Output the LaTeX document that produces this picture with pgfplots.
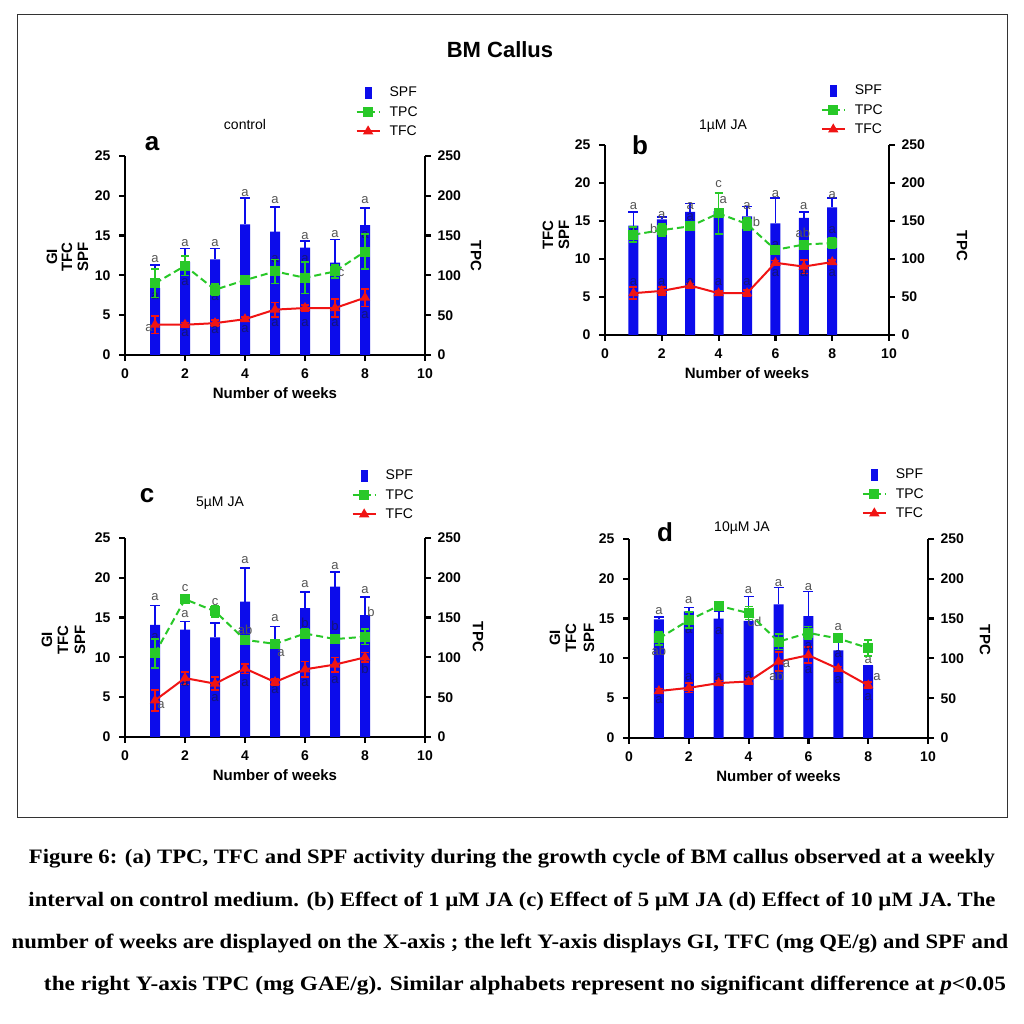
\documentclass[border=0pt]{standalone}
\usepackage{pgfplots}
\pgfplotsset{compat=1.18}
\usepackage{pgfplotstable}
\usepackage{fontspec}
\setmainfont{Liberation Sans}
\newfontfamily\capfont{Liberation Serif}

\definecolor{spfblue}{RGB}{12,12,235}
\definecolor{tpcgreen}{RGB}{40,200,40}
\definecolor{tfcred}{RGB}{240,20,20}
\definecolor{lettgray}{RGB}{85,85,85}
\definecolor{innerlett}{RGB}{20,20,120}

\newcommand{\fs}[1]{\fontsize{#1}{#1}\selectfont}

% week, SPF (+err), TPC (+err, right axis), TFC (+err)
\pgfplotstableread{
w spf spfe tpc tpce tfc tfce
1 8.4  2.9 90  18 3.8 1.1
2 11.7 1.7 112 12 3.8 0.3
3 12.0 1.4 82  7  4.0 0.4
4 16.4 3.3 94  5  4.5 0.3
5 15.5 3.1 105 15 5.7 0.9
6 13.5 0.8 97  20 5.9 0.4
7 11.6 2.9 105 8  5.9 1.1
8 16.3 2.2 130 22 7.2 1.1
}\dataA
\pgfplotstableread{
w spf spfe tpc tpce tfc tfce
1 14.4 1.8 132 10 5.5 0.8
2 15.2 0.3 138 8  5.8 0.5
3 16.2 1.1 143 5  6.5 0.3
4 16.3 0.2 160 27 5.5 0.3
5 15.6 1.3 146 8  5.5 0.4
6 14.7 3.3 112 5  9.5 0.3
7 15.4 0.8 119 5  9.0 0.9
8 16.8 1.2 121 7  9.6 0.3
}\dataB
\pgfplotstableread{
w spf spfe tpc tpce tfc tfce
1 14.1 2.4 105 18 4.6 1.3
2 13.5 1.0 173 4  7.4 0.8
3 12.5 1.8 158 7  6.7 0.8
4 17.0 4.2 122 5  8.6 0.6
5 11.8 2.1 117 5  6.9 0.4
6 16.2 2.0 130 6  8.5 1.0
7 18.9 1.8 123 4  9.1 0.9
8 15.3 2.3 126 10 10.0 0.6
}\dataC
\pgfplotstableread{
w spf spfe tpc tpce tfc tfce
1 14.9 0.3 125 8  5.9 0.3
2 15.9 0.5 148 10 6.3 0.6
3 15.0 0.9 166 5  6.9 0.3
4 14.7 3.1 157 8  7.1 0.4
5 16.8 2.1 121 10 9.6 1.2
6 15.3 3.1 132 8  10.4 1.0
7 11.0 2.0 125 5  8.7 0.3
8 9.1  0.0 113 10 6.6 0.4
}\dataD

\pgfplotsset{
  tpcline/.style={tpcgreen, line width=2pt, dash pattern=on 7pt off 4pt,
    mark=square*, mark size=4pt, mark options={solid, fill=tpcgreen}},
  tfcline/.style={tfcred, line width=2pt, solid,
    mark=triangle*, mark size=4pt, mark options={solid, fill=tfcred}},
  common/.style={scale only axis, xmin=0, xmax=10, clip=false,
    /pgf/number format/assume math mode=true,
    tick label style={font=\bfseries\fs{14}}},
  tickset/.style={tick align=outside, major tick length=6pt,
    xtick style={black, line width=2.2pt},
    ytick style={black, line width=2.2pt},
    axis line style={-, line width=2.4pt, black}},
  panel/.style={common, ymin=0, ymax=25,
    axis x line=bottom, axis y line=left, tickset,
    xtick={0,2,...,10}, ytick={0,5,...,25},
    xticklabel style={yshift=-4pt}, yticklabel style={xshift=-5pt},
    xlabel={Number of weeks}, xlabel style={font=\bfseries\fs{15}, yshift=-2pt},
    legend cell align=left,
    legend image code/.code={\draw[mark repeat=2,mark phase=2,##1] plot coordinates {(0pt,0pt) (11.5pt,0pt) (23pt,0pt)};}},
  panelR/.style={common, ymin=0, ymax=250,
    axis x line=none, axis y line=right, tickset,
    yticklabel style={xshift=3pt},
    ytick={0,50,...,250}},
  legpos/.style 2 args={legend style={at={(#1,#2)}, anchor=north west,
    draw=none, fill=none, font=\fs{14}, inner sep=0pt, row sep=6pt,
    nodes={inner sep=1pt}, /tikz/every odd column/.style={column sep=8pt}}},
  spfbars/.style={ybar, bar width=10pt, bar shift=0pt, fill=spfblue, draw=none,
    error bars/.cd, y dir=plus, y explicit,
    error bar style={spfblue, line width=1.6pt},
    error mark options={spfblue, line width=1.6pt, mark size=5pt, rotate=90}},
  tpcerr/.style={error bars/.cd, y dir=both, y explicit,
    error bar style={tpcgreen, solid, line width=1.6pt},
    error mark options={tpcgreen, solid, line width=1.6pt, mark size=4pt, rotate=90}},
  tfcerr/.style={error bars/.cd, y dir=both, y explicit,
    error bar style={tfcred, solid, line width=1.6pt},
    error mark options={tfcred, solid, line width=1.6pt, mark size=4pt, rotate=90}},
}
\tikzset{
  lt/.style={font=\fs{13}, text=lettgray, inner sep=0pt},
  il/.style={font=\fs{13}, text=innerlett, inner sep=0pt},
  ylab/.style={font=\bfseries\fs{15}, rotate=90},
  ylabR/.style={font=\bfseries\fs{15}, rotate=-90},
}

% left axis: SPF bars and TFC line, with legend
\newcommand{\leftplots}[1]{%
  \addplot[forget plot, spfbars] table[x=w, y=spf, y error=spfe] {#1};
  \addplot[forget plot, tfcline, tfcerr] table[x=w, y=tfc, y error=tfce] {#1};
  \addlegendimage{legend image code/.code={\path[draw=none] (0pt,0pt) -- (23pt,0pt); \fill[spfblue, draw=none] (8pt,-6pt) rectangle (15pt,6pt);}}
  \addlegendentry{SPF}
  \addlegendimage{tpcline}
  \addlegendentry{TPC}
  \addlegendimage{tfcline}
  \addlegendentry{TFC}
}
\newcommand{\rightplot}[1]{%
  \addplot[tpcline, tpcerr] table[x=w, y=tpc, y error=tpce] {#1};
}

\begin{document}
\begin{tikzpicture}[x=1pt, y=1pt]
\path[use as bounding box] (0,0) rectangle (1024,1024);
\fill[white] (0,0) rectangle (1024,1024);
\draw[line width=1pt, black!80] (17,1009) rectangle (1007,206);
\node[font=\bfseries\fs{22}, anchor=base] at (500,966) {BM Callus};

% ---- panel a: control
\begin{axis}[panel, legpos={0.768}{1.352}, at={(125pt,669pt)}, anchor=south west, width=300pt, height=199pt]
\leftplots{\dataA}
\node[lt] at (axis cs:1,12.1) {a};
\node[lt] at (axis cs:2,14.1) {a};
\node[lt] at (axis cs:3,14.1) {a};
\node[lt] at (axis cs:4,20.4) {a};
\node[lt] at (axis cs:5,19.5) {a};
\node[lt] at (axis cs:6,15.0) {a};
\node[lt] at (axis cs:7,15.2) {a};
\node[lt] at (axis cs:8,19.5) {a};
\node[lt] at (axis cs:0.8,3.4) {a};
\node[lt] at (axis cs:7.2,10.3) {c};
\node[il] at (axis cs:1,7.4) {a};
\node[il] at (axis cs:2,9.2) {a};
\node[il] at (axis cs:2,2.8) {a};
\node[il] at (axis cs:3,7.3) {a};
\node[il] at (axis cs:3,3.1) {a};
\node[il] at (axis cs:4,3.2) {a};
\node[il] at (axis cs:5,12.0) {a};
\node[il] at (axis cs:5,4.0) {a};
\node[il] at (axis cs:6,12.0) {a};
\node[il] at (axis cs:6,4.0) {a};
\node[il] at (axis cs:7,4.0) {a};
\node[il] at (axis cs:8,15.1) {a};
\node[il] at (axis cs:8,5.0) {a};
\end{axis}
\begin{axis}[panelR, at={(125pt,669pt)}, anchor=south west, width=300pt, height=199pt]
\rightplot{\dataA}
\end{axis}

% ---- panel b: 1 uM JA
\begin{axis}[panel, legpos={0.759}{1.321}, at={(605pt,689pt)}, anchor=south west, width=284pt, height=190pt]
\leftplots{\dataB}
\node[lt] at (axis cs:1,16.9) {a};
\node[lt] at (axis cs:2,15.8) {a};
\node[lt] at (axis cs:3,17.0) {a};
\node[lt] at (axis cs:4,19.9) {c};
\node[lt] at (axis cs:5,17.0) {a};
\node[lt] at (axis cs:6,18.6) {a};
\node[lt] at (axis cs:7,16.9) {a};
\node[lt] at (axis cs:8,18.4) {a};
\node[lt] at (axis cs:1.72,14.0) {b};
\node[lt] at (axis cs:4.16,17.8) {a};
\node[lt] at (axis cs:5.33,14.9) {b};
\node[lt] at (axis cs:6.97,13.4) {ab};
\node[il] at (axis cs:1,13.5) {a};
\node[il] at (axis cs:1,6.9) {a};
\node[il] at (axis cs:2,6.9) {a};
\node[il] at (axis cs:3,15.5) {a};
\node[il] at (axis cs:3,6.9) {a};
\node[il] at (axis cs:4,6.9) {a};
\node[il] at (axis cs:5,6.9) {a};
\node[il] at (axis cs:6,11.8) {a};
\node[il] at (axis cs:6,8.1) {a};
\node[il] at (axis cs:7,8.1) {a};
\node[il] at (axis cs:8,13.8) {a};
\node[il] at (axis cs:8,8.1) {a};
\end{axis}
\begin{axis}[panelR, at={(605pt,689pt)}, anchor=south west, width=284pt, height=190pt]
\rightplot{\dataB}
\end{axis}

% ---- panel c: 5 uM JA
\begin{axis}[panel, legpos={0.755}{1.347}, at={(125pt,287pt)}, anchor=south west, width=300pt, height=199pt]
\leftplots{\dataC}
\node[lt] at (axis cs:1,17.6) {a};
\node[lt] at (axis cs:2,18.7) {c};
\node[lt] at (axis cs:2,15.5) {a};
\node[lt] at (axis cs:3,17.0) {c};
\node[lt] at (axis cs:3,15.5) {a};
\node[lt] at (axis cs:4,22.2) {a};
\node[lt] at (axis cs:4,13.4) {ab};
\node[lt] at (axis cs:5,14.9) {a};
\node[lt] at (axis cs:5.2,10.6) {a};
\node[lt] at (axis cs:6,19.2) {a};
\node[lt] at (axis cs:7,21.5) {a};
\node[lt] at (axis cs:8,18.4) {a};
\node[lt] at (axis cs:8.2,15.7) {b};
\node[lt] at (axis cs:1.2,4.0) {a};
\node[il] at (axis cs:1,12.6) {a};
\node[il] at (axis cs:2,6.8) {a};
\node[il] at (axis cs:3,4.9) {a};
\node[il] at (axis cs:4,6.8) {a};
\node[il] at (axis cs:5,5.9) {a};
\node[il] at (axis cs:6,14.4) {b};
\node[il] at (axis cs:6,6.8) {a};
\node[il] at (axis cs:7,13.9) {b};
\node[il] at (axis cs:7,7.2) {a};
\node[il] at (axis cs:8,8.6) {b};
\end{axis}
\begin{axis}[panelR, at={(125pt,287pt)}, anchor=south west, width=300pt, height=199pt]
\rightplot{\dataC}
\end{axis}

% ---- panel d: 10 uM JA
\begin{axis}[panel, legpos={0.778}{1.357}, at={(629pt,286pt)}, anchor=south west, width=299pt, height=199pt]
\leftplots{\dataD}
\node[lt] at (axis cs:1,16.0) {a};
\node[lt] at (axis cs:2,17.3) {a};
\node[lt] at (axis cs:3,16.5) {a};
\node[lt] at (axis cs:4,18.6) {a};
\node[lt] at (axis cs:5,19.5) {a};
\node[lt] at (axis cs:6,19.0) {a};
\node[lt] at (axis cs:7,13.9) {a};
\node[lt] at (axis cs:8,9.8) {a};
\node[lt] at (axis cs:1,11.0) {ab};
\node[lt] at (axis cs:4.2,14.6) {cd};
\node[lt] at (axis cs:5.27,9.3) {a};
\node[lt] at (axis cs:4.94,7.8) {ab};
\node[lt] at (axis cs:8.29,7.7) {a};
\node[il] at (axis cs:1,4.75) {a};
\node[il] at (axis cs:2,7.7) {a};
\node[il] at (axis cs:2,13.6) {a};
\node[il] at (axis cs:3,7.7) {a};
\node[il] at (axis cs:3,13.4) {a};
\node[il] at (axis cs:4,7.9) {a};
\node[il] at (axis cs:6,8.5) {a};
\node[il] at (axis cs:6,11.6) {a};
\node[il] at (axis cs:7,10.6) {a};
\node[il] at (axis cs:7,7.3) {a};
\node[il] at (axis cs:8,5.2) {a};
\end{axis}
\begin{axis}[panelR, at={(629pt,286pt)}, anchor=south west, width=299pt, height=199pt]
\rightplot{\dataD}
\end{axis}

% panel letters and treatment names
\node[font=\bfseries\fs{26}, anchor=base] at (152,873) {a};
\node[font=\bfseries\fs{26}, anchor=base] at (640,869) {b};
\node[font=\bfseries\fs{26}, anchor=base] at (147,521) {c};
\node[font=\bfseries\fs{26}, anchor=base] at (665,482) {d};
\node[font=\fs{14}, anchor=base] at (245,894) {control};
\node[font=\fs{14}, anchor=base] at (723,894) {1µM JA};
\node[font=\fs{14}, anchor=base] at (220,517) {5µM JA};
\node[font=\fs{14}, anchor=base] at (742,492) {10µM JA};

% axis titles
\node[ylab] at (52,767) {GI};
\node[ylab] at (67,767) {TFC};
\node[ylab] at (83,767) {SPF};
\node[ylab] at (548,789) {TFC};
\node[ylab] at (564,789) {SPF};
\node[ylab] at (47,384) {GI};
\node[ylab] at (63,384) {TFC};
\node[ylab] at (80,384) {SPF};
\node[ylab] at (555,386) {GI};
\node[ylab] at (571,386) {TFC};
\node[ylab] at (589,386) {SPF};
\node[ylabR] at (476,768) {TPC};
\node[ylabR] at (962,778) {TPC};
\node[ylabR] at (478,387) {TPC};
\node[ylabR] at (985,384) {TPC};

% caption
\begin{scope}[every node/.style={font=\capfont\bfseries\fs{20.5}, anchor=base, inner sep=0pt}]
\node[xscale=1.107] at (512,160) {Figure 6: (a) TPC, TFC and SPF activity during the growth cycle of BM callus observed at a weekly};
\node[xscale=1.107] at (512,117) {interval on control medium. (b) Effect of 1 µM JA (c) Effect of 5 µM JA (d) Effect of 10 µM JA. The};
\node[xscale=1.109] at (510,75) {number of weeks are displayed on the X-axis ; the left Y-axis displays GI, TFC (mg QE/g) and SPF and};
\node[xscale=1.136] at (525,33) {the right Y-axis TPC (mg GAE/g). Similar alphabets represent no significant difference at \textit{p}<0.05};
\end{scope}
\end{tikzpicture}
\end{document}
